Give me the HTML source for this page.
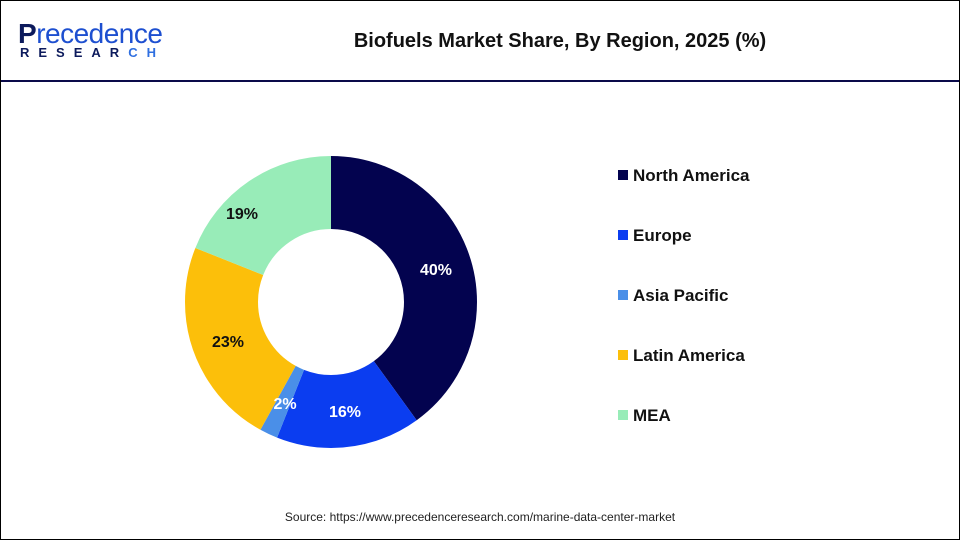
<!DOCTYPE html>
<html><head><style>
body{margin:0;width:960px;height:540px;overflow:hidden;background:#fff;font-family:"Liberation Sans",sans-serif}
.frame{position:absolute;left:0;top:0;width:958px;height:538px;border:1px solid #000}
.hline{position:absolute;left:1px;top:80px;width:958px;height:2px;background:#0a0a4a}
.title{position:absolute;left:300px;width:520px;top:30px;text-align:center;font-weight:bold;font-size:20px;color:#111}
.leg{position:absolute;left:618px;font-weight:bold;font-size:17px;color:#111}
.leg span{display:inline-block;width:10px;height:10px;margin-right:5px;vertical-align:1px}
.src{position:absolute;top:510px;width:960px;text-align:center;font-size:12px;color:#222}
</style></head><body>
<div class="frame"></div>
<div class="hline"></div>
<div style="position:absolute;left:18px;top:18px;font-size:28px;color:#0c1a5c;font-weight:bold;letter-spacing:-0.5px">P<span style="color:#1d4fd0;font-weight:normal">recedence</span></div>
<div style="position:absolute;left:20px;top:45px;font-size:13px;font-weight:bold;color:#0c1a5c;letter-spacing:9px">RESEAR<span style="color:#2f6fe0">CH</span></div>
<div class="title">Biofuels Market Share, By Region, 2025 (%)</div>
<svg width="960" height="540" style="position:absolute;left:0;top:0">
<g transform="rotate(-90 331 302)" fill="none" stroke-width="73">
<circle cx="331" cy="302" r="109.5" stroke="#03034f" stroke-dasharray="275.2 688" stroke-dashoffset="0"/>
<circle cx="331" cy="302" r="109.5" stroke="#0b3df0" stroke-dasharray="110.1 688" stroke-dashoffset="-275.2"/>
<circle cx="331" cy="302" r="109.5" stroke="#4a8fe8" stroke-dasharray="13.8 688" stroke-dashoffset="-385.3"/>
<circle cx="331" cy="302" r="109.5" stroke="#fcbf0a" stroke-dasharray="158.2 688" stroke-dashoffset="-399.1"/>
<circle cx="331" cy="302" r="109.5" stroke="#98ecb8" stroke-dasharray="130.8 688" stroke-dashoffset="-557.3"/>
</g>
<g font-family="Liberation Sans" font-weight="bold" font-size="16" text-anchor="middle">
<text x="436" y="275" fill="#fff">40%</text>
<text x="345" y="417" fill="#fff">16%</text>
<text x="285" y="409" fill="#fff">2%</text>
<text x="228" y="347" fill="#111">23%</text>
<text x="242" y="219" fill="#111">19%</text>
</g>
</svg>
<div class="leg" style="top:166px"><span style="background:#03034f"></span>North America</div>
<div class="leg" style="top:226px"><span style="background:#0b3df0"></span>Europe</div>
<div class="leg" style="top:286px"><span style="background:#4a8fe8"></span>Asia Pacific</div>
<div class="leg" style="top:346px"><span style="background:#fcbf0a"></span>Latin America</div>
<div class="leg" style="top:406px"><span style="background:#98ecb8"></span>MEA</div>
<div class="src">Source: https://www.precedenceresearch.com/marine-data-center-market</div>
</body></html>
